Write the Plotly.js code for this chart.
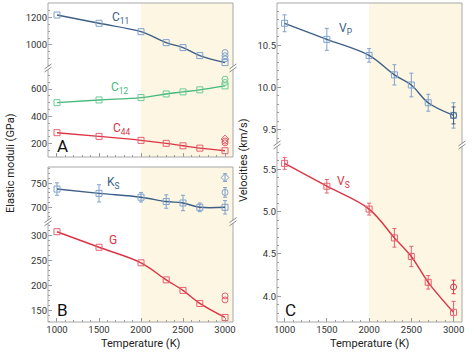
<!DOCTYPE html>
<html><head><meta charset="utf-8">
<script src="https://cdn.plot.ly/plotly-3.0.1.min.js"></script>
<style>html,body{margin:0;padding:0;background:#fff}#c{width:474px;height:364px}</style>
</head><body><div id="c"></div>
<script>
// ---- data ----
const T = [1000, 1500, 2000, 2300, 2500, 2700, 3000];
const C11 = [1217, 1157, 1096, 1017, 981, 923, 872];
const C12 = [501, 521, 538, 565, 580, 595, 624];
const C44 = [281, 254, 225, 203, 185, 168, 149];
const C11x = [945, 922, 899];
const C12x = [673, 649];
const C44x = [235, 220, 207];
const KS = [738, 729, 721, 712, 709, 700, 700];
const KSerr = [13, 18, 10, 14, 16, 9, 14];
const KSx = [762, 731];
const KSxerr = [8, 10];
const G = [308, 277, 246, 212, 191, 165, 137];
const Gx = [180, 172];
const VP = [10.76, 10.57, 10.38, 10.15, 10.03, 9.82, 9.67];
const VPerr = [0.10, 0.13, 0.08, 0.12, 0.14, 0.10, 0.15];
const VPx = [9.67];
const VPxerr = [0.10];
const VS = [5.57, 5.30, 5.03, 4.69, 4.47, 4.165, 3.81];
const VSerr = [0.07, 0.08, 0.07, 0.11, 0.12, 0.08, 0.13];
const VSx = [4.11];
const VSxerr = [0.08];
const xTicks = [1000, 1500, 2000, 2500, 3000];

// ---- helpers ----
const W = 474, H = 364;
const px = v => v / W, py = v => 1 - v / H;
const BLUE = '#3d5f86', BLUEm = '#7fa2cf';
const GREEN = '#46b978', GREENm = '#6ccc95';
const RED = '#dc3445', REDm = '#e8606e';
const FONT = 'Roboto, "Open Sans", sans-serif';

function main(x, y, xa, ya, lc, mc, err) {
  const t = {x: x, y: y, xaxis: xa, yaxis: ya, mode: 'lines+markers', type: 'scatter',
    line: {color: lc, width: 1.4, shape: 'spline', smoothing: 1},
    marker: {symbol: 'square-open', size: 6, color: mc, line: {width: 1, color: mc}},
    hoverinfo: 'skip', showlegend: false, cliponaxis: false};
  if (err) t.error_y = {type: 'data', array: err, visible: true, color: mc, thickness: 1, width: 2};
  return t;
}
function extra(y, xa, ya, mc, syms, err) {
  const t = {x: y.map(() => 3000), y: y, xaxis: xa, yaxis: ya, mode: 'markers', type: 'scatter',
    marker: {symbol: syms, size: 6, color: mc, line: {width: 1, color: mc}},
    hoverinfo: 'skip', showlegend: false, cliponaxis: false};
  if (err) t.error_y = {type: 'data', array: err, visible: true, color: mc, thickness: 1, width: 2};
  return t;
}

const traces = [
  main(T, C11, 'x', 'y', BLUE, BLUEm),
  extra(C11x, 'x', 'y', BLUEm, ['circle-open', 'circle-open', 'circle-open']),
  main(T, C12, 'x', 'y2', GREEN, GREENm),
  extra(C12x, 'x', 'y2', GREENm, ['circle-open', 'circle-open']),
  main(T, C44, 'x', 'y2', RED, REDm),
  extra(C44x, 'x', 'y2', REDm, ['diamond-open', 'circle-open', 'circle-open']),
  main(T, KS, 'x2', 'y3', BLUE, BLUEm, KSerr),
  extra(KSx, 'x2', 'y3', BLUEm, ['diamond-open', 'circle-open'], KSxerr),
  main(T, G, 'x2', 'y4', RED, REDm),
  extra(Gx, 'x2', 'y4', REDm, ['circle-open', 'circle-open']),
  main(T, VP, 'x3', 'y5', BLUE, BLUEm, VPerr),
  extra(VPx, 'x3', 'y5', BLUE, ['circle-open'], VPxerr),
  main(T, VS, 'x3', 'y6', RED, REDm, VSerr),
  extra(VSx, 'x3', 'y6', RED, ['circle-open'], VSxerr)
];

const tickCol = '#9a9a9a';
const tf = {family: FONT, size: 9.5, color: '#333'};
function xax(dom, rng, anchor, labels) {
  return {domain: dom, range: rng, anchor: anchor, tickvals: xTicks, ticks: 'inside', ticklen: 4,
    tickcolor: tickCol, showticklabels: labels, tickfont: tf, showgrid: false, zeroline: false,
    showline: false, minor: {dtick: 100, ticks: 'inside', ticklen: 2, tickcolor: tickCol}, fixedrange: true};
}
function yax(dom, rng, anchor, dtick, mdt, fmt) {
  return {domain: dom, range: rng, anchor: anchor, dtick: dtick, tick0: 0, ticks: 'inside', ticklen: 4,
    tickcolor: tickCol, tickfont: tf, showgrid: false, zeroline: false, showline: false,
    tickformat: fmt || '', minor: {dtick: mdt, ticks: 'inside', ticklen: 2, tickcolor: tickCol}, fixedrange: true};
}

const A = {x0: 48, x1: 233, y0: 3, y1: 157, brk: 68};
const B = {x0: 48, x1: 233, y0: 167, y1: 322, brk: 221.7};
const C = {x0: 277, x1: 462, y0: 3, y1: 322, brk: 145};
const rAB = [893, 3095], rC = [910, 3100];

const layout = {
  width: W, height: H, margin: {l: 0, r: 0, t: 0, b: 0}, paper_bgcolor: '#fff', plot_bgcolor: 'rgba(0,0,0,0)',
  font: {family: FONT},
  xaxis: xax([px(A.x0), px(A.x1)], rAB, 'y2', false),
  xaxis2: xax([px(B.x0), px(B.x1)], rAB, 'y4', true),
  xaxis3: xax([px(C.x0), px(C.x1)], rC, 'y6', true),
  yaxis: yax([py(A.brk), py(A.y0)], [833, 1304], 'x', 200, 50),
  yaxis2: yax([py(A.y1), py(A.brk)], [103, 755], 'x', 200, 50),
  yaxis3: yax([py(B.brk), py(B.y0)], [670, 784], 'x2', 50, 10),
  yaxis4: yax([py(B.y1), py(B.brk)], [128, 328], 'x2', 50, 10),
  yaxis5: yax([py(C.brk), py(C.y0)], [9.32, 11.0], 'x3', 0.5, 0.1, '.1f'),
  yaxis6: yax([py(C.y1), py(C.brk)], [3.696, 5.787], 'x3', 0.5, 0.1, '.1f'),
  shapes: [],
  annotations: []
};

const SHADE = '#fdf6e2';
[[A, 'x', rAB], [B, 'x2', rAB], [C, 'x3', rC]].forEach(([P, xa, r]) => {
  layout.shapes.push({type: 'rect', xref: xa, yref: 'paper', x0: 2000, x1: r[1], y0: py(P.y1), y1: py(P.y0),
    fillcolor: SHADE, line: {width: 0}, layer: 'below'});
  layout.shapes.push({type: 'rect', xref: 'paper', yref: 'paper', x0: px(P.x0), x1: px(P.x1), y0: py(P.y1), y1: py(P.y0),
    line: {color: '#a8a8a8', width: 1}, layer: 'above'});
  [P.x0, P.x1].forEach(ex => {
    layout.shapes.push({type: 'rect', xref: 'paper', yref: 'paper', x0: px(ex - 2), x1: px(ex + 2),
      y0: py(P.brk + 1.5), y1: py(P.brk - 1.5), fillcolor: '#fff', line: {width: 0}, layer: 'above'});
    [-1.6, 1.6].forEach(d => {
      layout.shapes.push({type: 'line', xref: 'paper', yref: 'paper', x0: px(ex - 3.5), x1: px(ex + 3.5),
        y0: py(P.brk + d + 2.5), y1: py(P.brk + d - 2.5), line: {color: '#8a8a8a', width: 1}, layer: 'above'});
    });
  });
});

function lab(text, x, y, xa, ya, color, size) {
  layout.annotations.push({text: text, x: x, y: y, xref: xa, yref: ya, showarrow: false,
    xanchor: 'center', yanchor: 'middle', font: {family: FONT, size: size || 12, color: color}});
}
lab('C<sub>11</sub>', 1750, 1195, 'x', 'y', BLUE);
lab('C<sub>12</sub>', 1750, 612, 'x', 'y2', GREEN);
lab('C<sub>44</sub>', 1770, 308, 'x', 'y2', RED);
lab('K<sub>S</sub>', 1670, 750, 'x2', 'y3', BLUE);
lab('G', 1670, 292, 'x2', 'y4', RED);
lab('V<sub>P</sub>', 1718, 10.69, 'x3', 'y5', BLUE);
lab('V<sub>S</sub>', 1700, 5.35, 'x3', 'y6', RED);

function plab(text, xp, yp) {
  layout.annotations.push({text: text, x: px(xp), y: py(yp), xref: 'paper', yref: 'paper', showarrow: false,
    xanchor: 'center', yanchor: 'middle', font: {family: FONT, size: 17, color: '#111'}});
}
plab('A', 62, 146); plab('B', 62, 310); plab('C', 290, 310);

function tlab(text, xp, yp, rot) {
  layout.annotations.push({text: text, x: px(xp), y: py(yp), xref: 'paper', yref: 'paper', showarrow: false,
    xanchor: 'center', yanchor: 'middle', textangle: rot || 0, font: {family: FONT, size: 11, color: '#222'}});
}
tlab('Elastic moduli (GPa)', 10, 163, -90);
tlab('Velocities (km/s)', 243, 160, -90);
tlab('Temperature (K)', 140.5, 343);
tlab('Temperature (K)', 369.5, 343);

Plotly.newPlot('c', traces, layout, {staticPlot: true, displayModeBar: false});
</script></body></html>
